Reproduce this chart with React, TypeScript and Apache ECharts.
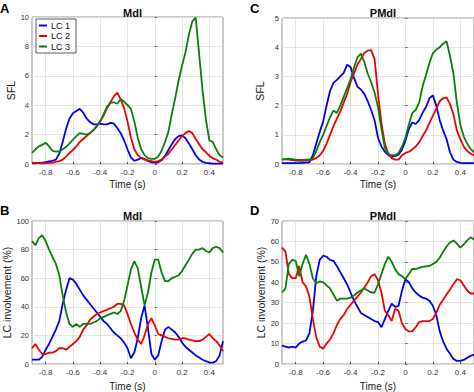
import React, { useEffect, useRef } from "react";
import * as echarts from "echarts";

const time = [-0.9,-0.875,-0.85,-0.825,-0.8,-0.775,-0.75,-0.725,-0.7,-0.675,-0.65,-0.625,-0.6,-0.575,-0.55,-0.525,-0.5,-0.475,-0.45,-0.425,-0.4,-0.375,-0.35,-0.325,-0.3,-0.275,-0.25,-0.225,-0.2,-0.175,-0.15,-0.125,-0.1,-0.075,-0.05,-0.025,0,0.025,0.05,0.075,0.1,0.125,0.15,0.175,0.2,0.225,0.25,0.275,0.3,0.325,0.35,0.375,0.4,0.425,0.45,0.475,0.5];

const xTicks = [-0.8, -0.6, -0.4, -0.2, 0, 0.2, 0.4];

// Panel A: MdI SFL
const sflMdI_LC1 = [0.05,0.05,0.08,0.1,0.12,0.18,0.22,0.3, 0.7,1.5,2.4,3.1,3.45,3.6,3.75,3.5, 3.1,2.85,2.7,2.7,2.75,2.7,2.7,2.8, 2.75,2.45,2.1,1.6,1.0,0.45,0.22,0.3, 0.42,0.35,0.2,0.12,0.1,0.12,0.25,0.55, 0.95,1.35,1.7,1.9,1.95,1.75,1.4,1.0, 0.6,0.3,0.15,0.08,0.05,0.03,0.02,0.02,0.02];
const sflMdI_LC2 = [0.1,0.08,0.06,0.05,0.05,0.08,0.1,0.15, 0.2,0.3,0.5,0.75,0.95,1.2,1.5,1.7, 1.9,2.1,2.3,2.6,2.9,3.3,3.8,4.2, 4.6,4.85,4.4,3.8,2.9,1.8,1.0,0.6, 0.4,0.3,0.25,0.2,0.15,0.2,0.3,0.5, 0.7,1.0,1.3,1.6,1.9,2.1,2.25,2.1, 1.7,1.35,1.0,0.8,0.55,0.4,0.3,0.15,0.1];
const sflMdI_LC3 = [0.75,1.0,1.2,1.3,1.45,1.2,0.9,0.85, 0.85,1.0,1.15,1.4,1.65,1.9,2.1,2.05, 2.0,2.1,2.3,2.55,2.9,3.4,3.9,4.15, 4.2,4.1,4.4,4.25,4.0,3.75,2.9,1.8, 1.0,0.6,0.4,0.35,0.35,0.5,0.9,1.5, 2.2,3.4,4.5,5.7,6.7,7.6,8.8,9.7, 9.95,7.5,5.0,3.0,1.6,1.5,1.0,0.6,0.45];

// Panel C: PMdI SFL
const sflPMdI_LC1 = [0.03,0.03,0.03,0.03,0.03,0.03,0.04,0.05, 0.06,0.3,0.7,1.1,1.45,2.0,2.5,2.78, 2.88,3.0,3.12,3.4,3.32,2.95,2.65,2.55, 2.4,2.15,1.85,1.5,0.9,0.6,0.42,0.3, 0.25,0.27,0.32,0.5,0.8,1.2,1.42,1.37, 1.5,1.75,1.95,2.25,2.35,2.0,1.5,1.15, 0.85,0.4,0.15,0.07,0.04,0.03,0.03,0.03,0.03];
const sflPMdI_LC2 = [0.16,0.16,0.15,0.13,0.12,0.11,0.11,0.12, 0.13,0.15,0.2,0.3,0.45,0.7,1.0,1.3, 1.55,1.8,2.1,2.4,2.8,3.1,3.4,3.6, 3.8,3.88,3.9,3.6,2.4,1.4,0.7,0.35, 0.2,0.15,0.15,0.3,0.38,0.42,0.5,0.6, 0.75,0.95,1.15,1.4,1.65,1.9,2.15,2.25, 2.28,2.05,1.7,1.15,0.85,0.6,0.45,0.35,0.3];
const sflPMdI_LC3 = [0.15,0.17,0.18,0.17,0.15,0.14,0.14,0.15, 0.16,0.2,0.45,0.75,1.0,1.3,1.6,1.83, 1.75,2.0,2.3,2.6,2.9,3.3,3.65,3.78, 3.5,3.1,2.8,2.45,1.95,1.2,0.55,0.35, 0.3,0.3,0.38,0.6,0.9,1.35,1.75,1.85, 2.1,2.65,3.05,3.45,3.8,3.92,4.0,4.12, 4.2,3.7,3.1,2.1,1.35,0.95,0.7,0.52,0.4];

// Panel B: MdI LC involvement (%)
const invMdI_LC1 = [3,3,3,5,10,14,19,24, 30,42,52,60,59,56,52,48, 45,42,39,36,33,30,28,25, 22,20,18,15,11,4,8,18, 32,41,25,7,3,6,16,24, 26,24,22,19,15,12,10,8, 6,4.5,3,2,1.2,1,2,6,16];
const invMdI_LC2 = [11,14,10,7,7,8,8,9, 11,11,10,12,14,16,19,24, 27,31,33,35,36,37,38,39, 40,42,42,41,35,28,22,17, 14,20,28,32,27,21,20,19, 18,17.5,17,17,18,18,17,16.5, 16,16,17,19,21,18,16,13,9];
const invMdI_LC3 = [86,83,88,90,86,80,75,70, 62,48,36,28,26,28,26,28, 28,28,29,30,32,33,34,35, 36,35,37,44,55,66,72,67, 54,41,50,64,73,73,64,58, 58,60,61,62,65,69,73,77, 80,80,81,79,78,81,82,81,78];

// Panel D: PMdI LC involvement (%)
const invPMdI_LC1 = [9,8.5,8,8.5,8,10,11,11.5, 15,26,43,51,53,52.5,51,50.5, 48,45,42,39,35,31,28,25, 24,23,22,21,20.5,18,22,26, 29.5,28,28.5,36,41.5,40,37,35, 33.5,32.5,32,31,28.5,24,16,11, 7.5,5,2.5,1.5,1.5,2,3,4,4.6];
const invPMdI_LC2 = [57,55,44,42,42,48,40,38, 33,22,13,8.5,7.5,10,12,15, 19,22,24,27,29,31,33,35, 37.5,40,43,44,41,35,26,24, 21,27,26,20,17,16,16,18, 20.5,21,21,21,22,25,29,31.5, 34,36.5,39,41.5,41,38.6,36,34.5,34.5];
const invPMdI_LC3 = [35,37,49,51,50.5,43,49,53.5, 49,42,39.5,40.5,40,38.5,37,34, 31,32,32,32,32.5,33.5,35,36, 37,36,35,35,39,44,49,52.5, 50,46.5,44,43,41.5,44,46.5,46.5, 47,47.5,47.8,48,49,50,52,55, 57.5,59.5,60.5,59,57,58.5,60.5,62,61];

const seriesNames = ["LC 1", "LC 2", "LC 3"];
const seriesColors = ["#0000f0", "#f00000", "#0a7f0a"];

const panelTitles = ["MdI", "PMdI", "MdI", "PMdI"];
const panelLetters = ["A", "C", "B", "D"];
const yNames = ["SFL", "SFL", "LC involvement (%)", "LC involvement (%)"];
const yMax = [10, 5, 100, 70];
const yInterval = [2, 1, 20, 10];
const panelData = [
  [sflMdI_LC1, sflMdI_LC2, sflMdI_LC3],
  [sflPMdI_LC1, sflPMdI_LC2, sflPMdI_LC3],
  [invMdI_LC1, invMdI_LC2, invMdI_LC3],
  [invPMdI_LC1, invPMdI_LC2, invPMdI_LC3],
];

const FONT = "'Liberation Sans', Arial, sans-serif";

export default function App() {
  const ref = useRef<HTMLDivElement>(null);
  useEffect(() => {
    if (!ref.current) return;
    const chart = echarts.init(ref.current, undefined, { renderer: "svg" });
    const grids = [
      { left: 32, top: 17, width: 191, height: 147 },
      { left: 282, top: 18, width: 194, height: 146 },
      { left: 32, top: 221, width: 191, height: 145 },
      { left: 282, top: 221, width: 194, height: 145 },
    ];
    const xNameGap = [15, 15, 17, 17];
    const yNameGap = [14, 17, 13, 15];
    const series: any[] = [];
    panelData.forEach((arrs, p) => {
      arrs.forEach((arr, s) => {
        series.push({
          type: "line",
          name: seriesNames[s],
          xAxisIndex: p,
          yAxisIndex: p,
          data: time.map((t, k) => [t, arr[k]]),
          symbol: "none",
          showSymbol: false,
          clip: true,
          lineStyle: { color: seriesColors[s], width: 1.8 },
          itemStyle: { color: seriesColors[s] },
          z: 3,
        });
      });
    });
    chart.setOption({
      animation: false,
      backgroundColor: "#ffffff",
      textStyle: { fontFamily: FONT },
      title: panelTitles.map((t, i) => ({
        text: t,
        left: grids[i].left + (i % 2 === 1 ? 96 : 95.5),
        top: i < 2 ? 2 : 205,
        textAlign: "center",
        textStyle: { fontSize: 11, fontWeight: "bold", color: "#111", fontFamily: FONT },
      })),
      legend: {
        data: seriesNames,
        orient: "vertical",
        left: 36,
        top: 19,
        icon: "rect",
        itemWidth: 8,
        itemHeight: 2,
        itemGap: 1.5,
        padding: [2, 6, 2, 3],
        borderColor: "#333",
        borderWidth: 0.8,
        backgroundColor: "#fff",
        textStyle: { fontSize: 9, color: "#111", fontFamily: FONT, lineHeight: 9, padding: [0, 0, 0, -1] },
        z: 10,
      },
      grid: grids.map((g) => ({ ...g, show: true, borderColor: "#7a7a7a", borderWidth: 0.8, backgroundColor: "transparent" })),
      xAxis: grids.map((g, i) => ({
        type: "value",
        gridIndex: i,
        min: -0.9,
        max: 0.5,
        name: "Time (s)",
        nameLocation: "middle",
        nameGap: xNameGap[i],
        nameTextStyle: { fontSize: 10, color: "#222", fontFamily: FONT },
        axisLine: { show: false },
        axisTick: { show: true, inside: true, length: 2, customValues: xTicks, lineStyle: { color: "#555" } },
        axisLabel: {
          customValues: xTicks,
          fontSize: 8,
          color: "#333",
          margin: 4,
          formatter: (v: number) => (Math.abs(v) < 1e-9 ? "0" : v.toFixed(1)),
        },
        splitLine: { show: true, lineStyle: { color: "#dedede", width: 0.8 } },
      })),
      yAxis: grids.map((g, i) => ({
        type: "value",
        gridIndex: i,
        min: 0,
        max: yMax[i],
        interval: yInterval[i],
        name: yNames[i],
        nameLocation: "middle",
        nameGap: yNameGap[i],
        nameRotate: 90,
        nameTextStyle: { fontSize: 10.5, color: "#222", fontFamily: FONT },
        axisLine: { show: false },
        axisTick: { show: true, inside: true, length: 2, lineStyle: { color: "#555" } },
        axisLabel: { fontSize: 7.5, color: "#333", margin: 3 },
        splitLine: { show: true, lineStyle: { color: "#dedede", width: 0.8 } },
      })),
      graphic: panelLetters.map((l, i) => ({
        type: "text",
        left: i % 2 === 0 ? 0 : 250,
        top: i < 2 ? 2 : 204,
        style: { text: l, fontSize: 13, fontWeight: "bold", fill: "#000", fontFamily: FONT },
      })),
      series,
    });
    return () => chart.dispose();
  }, []);
  return <div ref={ref} style={{ position: "absolute", left: 0, top: 0, width: 474, height: 392 }} />;
}
